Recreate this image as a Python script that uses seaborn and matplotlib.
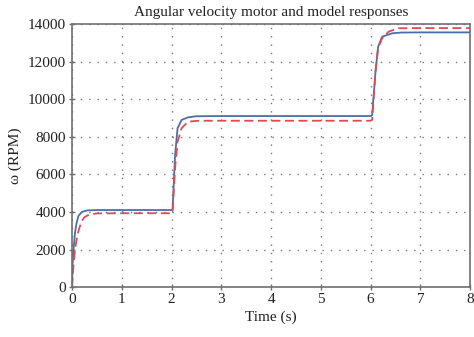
import matplotlib
matplotlib.use("Agg")
import matplotlib.pyplot as plt
import seaborn as sns
import pandas as pd

# Motor response
motor_t = [0, 0.01, 0.03, 0.06, 0.09, 0.13, 0.2, 0.3, 0.5, 1.0, 2.0, 2.02,
           2.07, 2.12, 2.2, 2.33, 2.5, 3.0, 4.0, 5.0, 6.0, 6.03, 6.1, 6.15,
           6.23, 6.43, 6.6, 7.0, 8.0]
motor_w = [0, 1200, 2000, 2900, 3400, 3800, 4000, 4080, 4100, 4100, 4100, 4150,
           7025, 8450, 8890, 9030, 9090, 9100, 9100, 9100, 9100, 9150, 11550, 12790,
           13320, 13500, 13540, 13550, 13550]

# Model response
model_t = [0, 0.03, 0.06, 0.09, 0.13, 0.19, 0.25, 0.35, 0.5, 1.0, 2.0, 2.02,
           2.07, 2.12, 2.2, 2.33, 2.54, 3.0, 4.0, 5.0, 6.0, 6.03, 6.1, 6.15,
           6.23, 6.36, 6.56, 7.0, 8.0]
model_w = [0, 1200, 2000, 2500, 3000, 3500, 3720, 3870, 3920, 3930, 3930, 3980,
           6320, 7730, 8450, 8800, 8850, 8850, 8850, 8850, 8850, 8900, 11550, 12720,
           13230, 13590, 13770, 13780, 13780]

x_ticks = [0, 1, 2, 3, 4, 5, 6, 7, 8]
y_ticks = [0, 2000, 4000, 6000, 8000, 10000, 12000, 14000]

df = pd.concat([
    pd.DataFrame({"t": motor_t, "w": motor_w, "s": "Motor"}),
    pd.DataFrame({"t": model_t, "w": model_w, "s": "Model"}),
])

sns.set_theme(style="white")
plt.rcParams["font.family"] = ["Liberation Serif", "DejaVu Serif"]

fig = plt.figure(figsize=(4.74, 3.37), dpi=100)
ax = fig.add_axes([0.152, 0.148, 0.84, 0.781])

sns.lineplot(data=df, x="t", y="w", hue="s", style="s",
             palette={"Motor": "#4a6fa8", "Model": "#e04a55"},
             dashes={"Motor": "", "Model": (5, 2.5)},
             linewidth=1.3, legend=False, ax=ax, estimator=None, sort=False)

ax.set_xlim(0, 8)
ax.set_ylim(0, 14000)
ax.set_xticks(x_ticks)
ax.set_yticks(y_ticks)
ax.set_xticklabels([str(v) for v in x_ticks])
ax.set_yticklabels([str(v) for v in y_ticks])
ax.grid(True, color="#777777", linestyle=(0, (1, 5)), linewidth=1.0)
for sp in ax.spines.values():
    sp.set_color("#707070")
    sp.set_linewidth(1.2)
ax.tick_params(axis="both", direction="inout", length=5, width=1, color="#707070",
               labelsize=11, labelcolor="#222222", pad=2, bottom=True, left=True)
ax.set_xlabel("Time (s)", fontsize=11, color="#222222", labelpad=3)
ax.set_ylabel("ω (RPM)", fontsize=11, color="#222222", labelpad=4)
ax.set_title("Angular velocity motor and model responses", fontsize=11,
             color="#222222", pad=6)

fig.savefig("out.png", dpi=100)
